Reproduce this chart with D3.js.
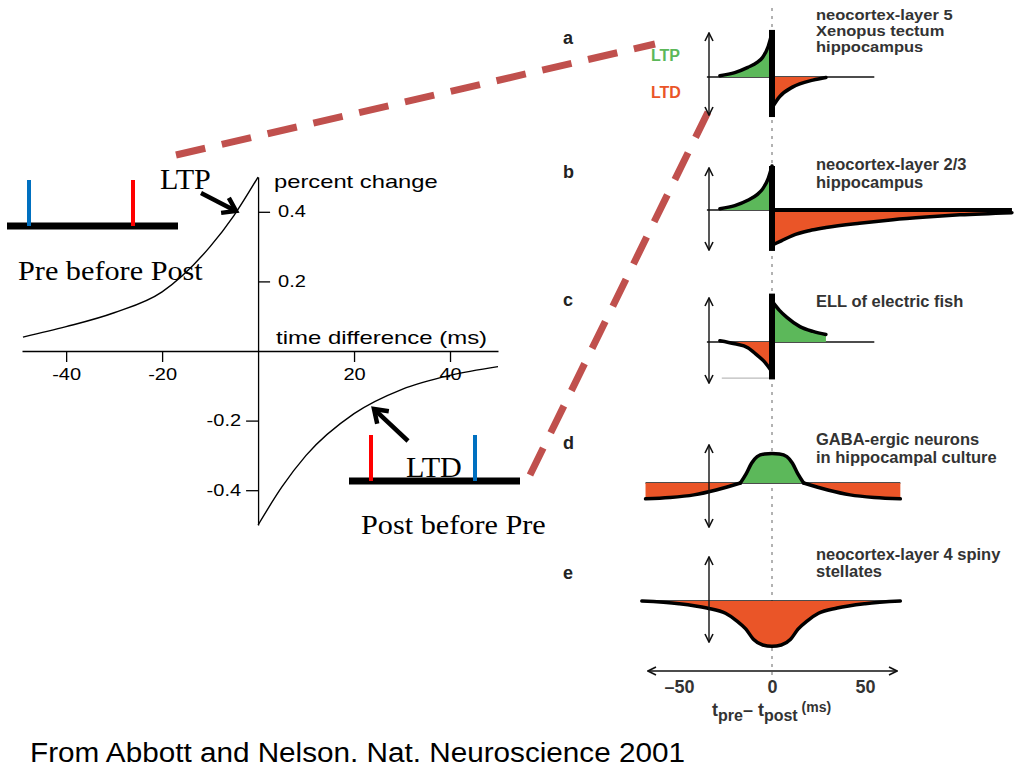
<!DOCTYPE html>
<html lang="en">
<head>
<meta charset="utf-8">
<title>STDP</title>
<style>
  body { margin: 0; background: #fff; }
  svg { display: block; }
</style>
</head>
<body>
<script src="https://d3js.org/d3.v7.min.js"></script>
<script>

// ---- left plot: percent change vs time difference ----
var ltpCurve = [[-49,0.04],[-40,0.07],[-30,0.11],[-20,0.17],[-10,0.30],[-5,0.39],[0,0.50]];
var ltdCurve = [[0,-0.5],[5,-0.39],[10,-0.30],[20,-0.18],[30,-0.11],[40,-0.07],[50,-0.045]];
var xTicks = [-40, -20, 20, 40];
var yTicksUp = [0.4, 0.2];
var yTicksDown = [-0.2, -0.4];

// ---- right panels a-e (amplitude in arbitrary units) ----
var panelLetters = ["a", "b", "c", "d", "e"];
var panelNotes = [
  ["neocortex-layer 5", "Xenopus tectum", "hippocampus"],
  ["neocortex-layer 2/3", "hippocampus"],
  ["ELL of electric fish"],
  ["GABA-ergic  neurons", "in hippocampal culture"],
  ["neocortex-layer 4 spiny", "stellates"]
];
var aLtp = [[-28,0.03],[-20,0.1],[-13,0.22],[-8,0.33],[-5,0.45],[-2,0.7],[0,1.0]];
var aLtd = [[0,-0.7],[4,-0.45],[11,-0.23],[22,-0.07],[29,-0.01]];
var bLtp = [[-28,0.03],[-20,0.1],[-13,0.22],[-8,0.35],[-5,0.48],[-2,0.72],[0,1.0]];
var bLtd = [[0,-0.8],[5,-0.7],[11,-0.58],[20,-0.47],[29,-0.4],[47,-0.3],[65,-0.22],[83,-0.16],[101,-0.11],[129,-0.06]];
var cLtd = [[-28,0.03],[-20,-0.04],[-13,-0.13],[-8,-0.3],[-4,-0.45],[0,-0.68]];
var cLtp = [[0,0.93],[4,0.72],[8,0.56],[15,0.35],[22,0.24],[29,0.17]];
var dLtp = [[-17,0],[-14,0.2],[-11,0.45],[-8,0.6],[-4,0.66],[0,0.67],[4,0.66],[8,0.6],[11,0.45],[14,0.2],[17,0]];
var dLtdLeft = [[-68,-0.36],[-55,-0.33],[-42,-0.27],[-30,-0.16],[-17,0]];
var dLtdRight = [[17,0],[30,-0.16],[42,-0.27],[55,-0.33],[69,-0.36]];
var eLtd = [[-70,0],[-50,-0.06],[-35,-0.16],[-25,-0.28],[-19,-0.45],[-14,-0.64],[-10,-0.87],[-5,-1.0],[0,-1.03],
            [5,-1.0],[10,-0.87],[14,-0.64],[19,-0.45],[25,-0.28],[35,-0.16],[50,-0.06],[69,0]];
var baseSpans = [[-35,55],[-35,0],[-35,55],[-68,69],[-70,69]];
var barSpans = [[1.07,-0.91],[1.0,-0.93],[1.1,-0.85],null,null];
var tTicks = [-50, 0, 50];
var tTickLabels = ["\u201350", "0", "50"];

var w = 1020, h = 768;
var green = "#5cb85a", red = "#ea5528", dashRed = "#c0504d";
var sans = "Arial, 'Liberation Sans', sans-serif";
var serif = "'Liberation Serif','Times New Roman',serif";

// widen text horizontally (the source figure is stretched)
function stretch(sel, k) {
  sel.each(function() {
    var n = this.getComputedTextLength();
    d3.select(this).attr("textLength", n * k).attr("lengthAdjust", "spacingAndGlyphs");
  });
}

var svg = d3.select("body").append("svg").attr("width", w).attr("height", h);

// dashed connectors (behind everything)
var conn = svg.append("g").attr("stroke", dashRed).attr("stroke-width", 7)
  .attr("stroke-dasharray", "30,17").attr("fill", "none");
conn.append("line").attr("x1", 176).attr("y1", 155).attr("x2", 655).attr("y2", 44);
conn.append("line").attr("x1", 530).attr("y1", 475).attr("x2", 708).attr("y2", 112);

// ================= left plot =================
var x = d3.scaleLinear().domain([-49.2, 50]).range([22, 498]);
var y = d3.scaleLinear().domain([-0.5, 0.5]).range([525, 177]);

var left = svg.append("g").attr("font-family", sans);

var xAxis = left.append("g").attr("transform", "translate(0," + y(0) + ")")
  .call(d3.axisBottom(x).tickValues(xTicks).tickSize(11).tickSizeOuter(0).tickPadding(7)
    .tickFormat(function(d){ return d < 0 ? "-" + (-d) : "" + d; }));
var yAxisR = left.append("g").attr("transform", "translate(" + x(0) + ",0)")
  .call(d3.axisRight(y).tickValues(yTicksUp).tickSize(12).tickSizeOuter(0).tickPadding(8)
    .tickFormat(d3.format(".1f")));
var yAxisL = left.append("g").attr("transform", "translate(" + x(0) + ",0)")
  .call(d3.axisLeft(y).tickValues(yTicksDown).tickSize(12).tickSizeOuter(0).tickPadding(5)
    .tickFormat(function(d){ return "-" + d3.format(".1f")(-d); }));
yAxisL.select(".domain").remove();
[xAxis, yAxisR, yAxisL].forEach(function(g){
  g.selectAll("path, line").attr("stroke", "#000").attr("stroke-width", 1.3);
  g.selectAll("text").attr("font-size", 16).attr("fill", "#000").attr("font-family", sans);
  stretch(g.selectAll("text"), 1.25);
});

left.append("text").attr("x", 274).attr("y", 188).attr("font-size", 19).text("percent change")
  .call(stretch, 1.25);
left.append("text").attr("x", 276).attr("y", 344).attr("font-size", 19).text("time difference (ms)")
  .call(stretch, 1.26);

var curve = d3.line().x(function(d){ return x(d[0]); }).y(function(d){ return y(d[1]); })
  .curve(d3.curveMonotoneX);
left.append("path").datum(ltpCurve).attr("d", curve).attr("fill", "none").attr("stroke", "#000").attr("stroke-width", 1.4);
left.append("path").datum(ltdCurve).attr("d", curve).attr("fill", "none").attr("stroke", "#000").attr("stroke-width", 1.4);

// spike trains
function spikeTrain(g, x1, x2, yb, blueX, redX) {
  g.append("line").attr("x1", x1).attr("x2", x2).attr("y1", yb).attr("y2", yb)
    .attr("stroke", "#000").attr("stroke-width", 7);
  g.append("line").attr("x1", blueX).attr("x2", blueX).attr("y1", yb - 46).attr("y2", yb)
    .attr("stroke", "#0070c0").attr("stroke-width", 4);
  g.append("line").attr("x1", redX).attr("x2", redX).attr("y1", yb - 46).attr("y2", yb)
    .attr("stroke", "#ff0000").attr("stroke-width", 4);
}
spikeTrain(left, 7, 178, 226, 29, 133);
spikeTrain(left, 349, 520, 481, 475, 371);

// thick arrows
function bigArrow(g, x1, y1, x2, y2) {
  var a = Math.atan2(y2 - y1, x2 - x1), L = 15, s = 0.6;
  g.append("line").attr("x1", x1).attr("y1", y1).attr("x2", x2 - 3 * Math.cos(a)).attr("y2", y2 - 3 * Math.sin(a))
    .attr("stroke", "#000").attr("stroke-width", 4.5);
  g.append("path")
    .attr("d", "M" + (x2 - L * Math.cos(a - s)) + "," + (y2 - L * Math.sin(a - s)) +
               "L" + x2 + "," + y2 +
               "L" + (x2 - L * Math.cos(a + s)) + "," + (y2 - L * Math.sin(a + s)))
    .attr("fill", "none").attr("stroke", "#000").attr("stroke-width", 4.5).attr("stroke-linejoin", "miter");
}
bigArrow(left, 201, 193, 236, 211);
bigArrow(left, 408, 441, 374, 409);

left.append("text").attr("x", 160).attr("y", 189).attr("font-family", serif).attr("font-size", 29).text("LTP")
  .call(stretch, 1.04);
left.append("text").attr("x", 18).attr("y", 280).attr("font-family", serif).attr("font-size", 28).text("Pre before Post")
  .call(stretch, 1.08);
left.append("text").attr("x", 406).attr("y", 477).attr("font-family", serif).attr("font-size", 29).text("LTD")
  .call(stretch, 1.04);
left.append("text").attr("x", 361).attr("y", 534).attr("font-family", serif).attr("font-size", 28).text("Post before Pre")
  .call(stretch, 1.08);

// ================= right panels =================
var tx = d3.scaleLinear().domain([-50, 50]).range([679, 865]);
var baseY = [77, 210, 342, 483, 601];
var letterY = [44, 178, 306, 449, 579];
var noteY = [20, 170, 307, 445, 560];
var noteGap = [16, 18, 17, 18, 17];
var arrowSpan = [[33, 115], [168, 250], [298, 383], [445, 527], [557, 642]];

var defs = svg.append("defs");
defs.append("marker").attr("id", "vhead").attr("viewBox", "0 0 10 10").attr("refX", 9).attr("refY", 5)
  .attr("markerWidth", 10).attr("markerHeight", 10).attr("markerUnits", "userSpaceOnUse").attr("orient", "auto-start-reverse")
  .append("path").attr("d", "M1,1 L9,5 L1,9").attr("fill", "none").attr("stroke", "#111").attr("stroke-width", 1.6);

var right = svg.append("g");

// centre dotted line
right.append("line").attr("x1", tx(0)).attr("x2", tx(0)).attr("y1", 8).attr("y2", 682)
  .attr("stroke", "#999").attr("stroke-width", 1.5).attr("stroke-dasharray", "3,5");

var ltpSets = [[aLtp], [bLtp], [cLtp], [dLtp], []];
var ltdSets = [[aLtd], [bLtd], [cLtd], [dLtdLeft, dLtdRight], [eLtd]];

panelLetters.forEach(function(letter, i) {
  var y0 = baseY[i];
  var py = d3.scaleLinear().domain([-1, 1]).range([y0 + 44, y0 - 44]);
  var g = right.append("g");
  var line = d3.line().x(function(d){ return tx(d[0]); }).y(function(d){ return py(d[1]); }).curve(d3.curveMonotoneX);
  var area = d3.area().x(function(d){ return tx(d[0]); }).y0(py(0)).y1(function(d){ return py(d[1]); }).curve(d3.curveMonotoneX);

  // baseline
  g.append("line").attr("x1", tx(baseSpans[i][0])).attr("x2", tx(baseSpans[i][1]))
    .attr("y1", py(0)).attr("y2", py(0)).attr("stroke", "#111").attr("stroke-width", 1.3);

  ltpSets[i].forEach(function(s){
    g.append("path").datum(s).attr("d", area).attr("fill", green);
  });
  ltdSets[i].forEach(function(s){
    g.append("path").datum(s).attr("d", area).attr("fill", red);
  });
  if (i === 1) {
    g.append("line").attr("x1", tx(0)).attr("x2", tx(129)).attr("y1", py(0)).attr("y2", py(0))
      .attr("stroke", "#000").attr("stroke-width", 4);
  }
  if (i === 2) {
    g.append("line").attr("x1", tx(-27)).attr("x2", tx(0)).attr("y1", py(-0.82)).attr("y2", py(-0.82))
      .attr("stroke", "#bbb").attr("stroke-width", 1.2);
  }
  ltpSets[i].concat(ltdSets[i]).forEach(function(s){
    g.append("path").datum(s).attr("d", line).attr("fill", "none").attr("stroke", "#000")
      .attr("stroke-width", 3.5).attr("stroke-linecap", "round");
  });

  if (barSpans[i]) {
    g.append("rect").attr("x", tx(0) - 3).attr("width", 6)
      .attr("y", py(barSpans[i][0])).attr("height", py(barSpans[i][1]) - py(barSpans[i][0])).attr("fill", "#000");
  }

  // vertical double arrow
  g.append("line").attr("x1", 709).attr("x2", 709).attr("y1", arrowSpan[i][0]).attr("y2", arrowSpan[i][1])
    .attr("stroke", "#111").attr("stroke-width", 1.4)
    .attr("marker-start", "url(#vhead)").attr("marker-end", "url(#vhead)");

  g.append("text").attr("x", 563).attr("y", letterY[i]).attr("font-family", sans)
    .attr("font-weight", "bold").attr("font-size", 18).attr("fill", "#222").text(letter);

  var note = g.append("text").attr("x", 816).attr("y", noteY[i]).attr("font-family", sans).attr("font-weight", "bold")
    .attr("font-size", i === 0 ? 15 : 16.5).attr("fill", "#333");
  note.selectAll("tspan").data(panelNotes[i]).enter().append("tspan")
    .attr("x", 816).attr("dy", function(d, k){ return k === 0 ? 0 : noteGap[i]; }).text(function(d){ return d; });
  if (i === 0) stretch(note.selectAll("tspan"), 1.1);
});

right.append("text").attr("x", 651).attr("y", 61).attr("font-family", sans).attr("font-weight", "bold")
  .attr("font-size", 16).attr("fill", green).text("LTP");
right.append("text").attr("x", 651).attr("y", 98).attr("font-family", sans).attr("font-weight", "bold")
  .attr("font-size", 16).attr("fill", red).text("LTD");

// bottom time axis
right.append("line").attr("x1", 648).attr("x2", 897).attr("y1", 671).attr("y2", 671)
  .attr("stroke", "#111").attr("stroke-width", 1.6)
  .attr("marker-start", "url(#vhead)").attr("marker-end", "url(#vhead)");
var tAxis = right.append("g").attr("transform", "translate(0,671)")
  .call(d3.axisBottom(tx).tickValues(tTicks).tickSize(0).tickPadding(9)
    .tickFormat(function(d, k){ return tTickLabels[k]; }));
tAxis.select(".domain").remove();
tAxis.selectAll("text").attr("font-family", sans).attr("font-weight", "bold").attr("font-size", 18).attr("fill", "#333");

var tl = right.append("text").attr("x", 712).attr("y", 716).attr("font-family", sans)
  .attr("font-weight", "bold").attr("font-size", 18).attr("fill", "#333");
tl.append("tspan").text("t");
tl.append("tspan").attr("font-size", 16).attr("dy", 5).text("pre");
tl.append("tspan").attr("dy", -5).text("\u2013 t");
tl.append("tspan").attr("font-size", 16).attr("dy", 5).text("post");
tl.append("tspan").attr("font-size", 14).attr("dy", -9).text(" (ms)");

// footer
svg.append("text").attr("x", 30).attr("y", 762).attr("font-family", sans)
  .attr("font-size", 27).attr("fill", "#000").text("From Abbott and Nelson. Nat. Neuroscience 2001")
  .attr("textLength", 655).attr("lengthAdjust", "spacingAndGlyphs");

</script>
</body>
</html>
